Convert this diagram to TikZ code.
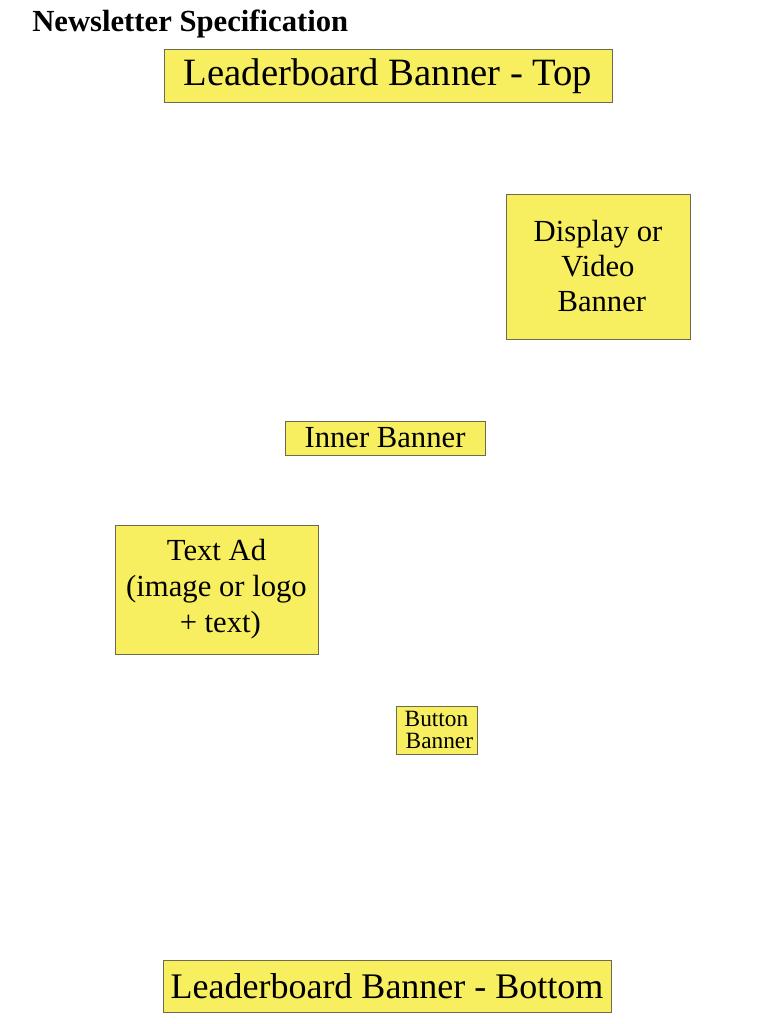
\documentclass[tikz,border=0pt]{standalone}
\usepackage{fontspec}
\setmainfont{Liberation Serif}
\definecolor{adfill}{HTML}{F7EF5F}
\definecolor{adline}{HTML}{6E6A50}
\begin{document}
\begin{tikzpicture}[x=0.75pt,y=-0.75pt,
  adbox/.style={draw=adline,line width=0.75pt,fill=adfill,inner sep=0pt,align=center,text=black},
  ]
\useasboundingbox (0,0) rectangle (768,1024);
\node[anchor=base west,inner sep=0pt,font=\fontsize{23}{27}\selectfont\bfseries] (title) at (32,32) {Newsletter Specification};
\node[adbox,minimum width=336pt,minimum height=39pt,font=\fontsize{29}{34}\selectfont] (top) at (388,76) {\raisebox{-2pt}{Leaderboard Banner - Top}};
\node[adbox,minimum width=138pt,minimum height=108.75pt,font=\fontsize{23}{26.25}\selectfont] (display) at (598,266.5) {Display or\\Video\\\ Banner};
\node[adbox,minimum width=150pt,minimum height=25.5pt,font=\fontsize{23}{27}\selectfont] (inner) at (385,438) {Inner Banner};
\node[adbox,minimum width=152.25pt,minimum height=96.75pt,font=\fontsize{23}{27}\selectfont] (textad) at (216.5,589.5) {Text Ad\\(image or logo\\\ + text)};
\node[adbox,minimum width=60.75pt,minimum height=36pt,font=\fontsize{17.5}{17}\selectfont] (button) at (436.5,730) {Button\\\ Banner};
\node[adbox,minimum width=336pt,minimum height=39pt,font=\fontsize{27}{32}\selectfont] (bottom) at (387,986) {Leaderboard Banner - Bottom};
\end{tikzpicture}
\end{document}
